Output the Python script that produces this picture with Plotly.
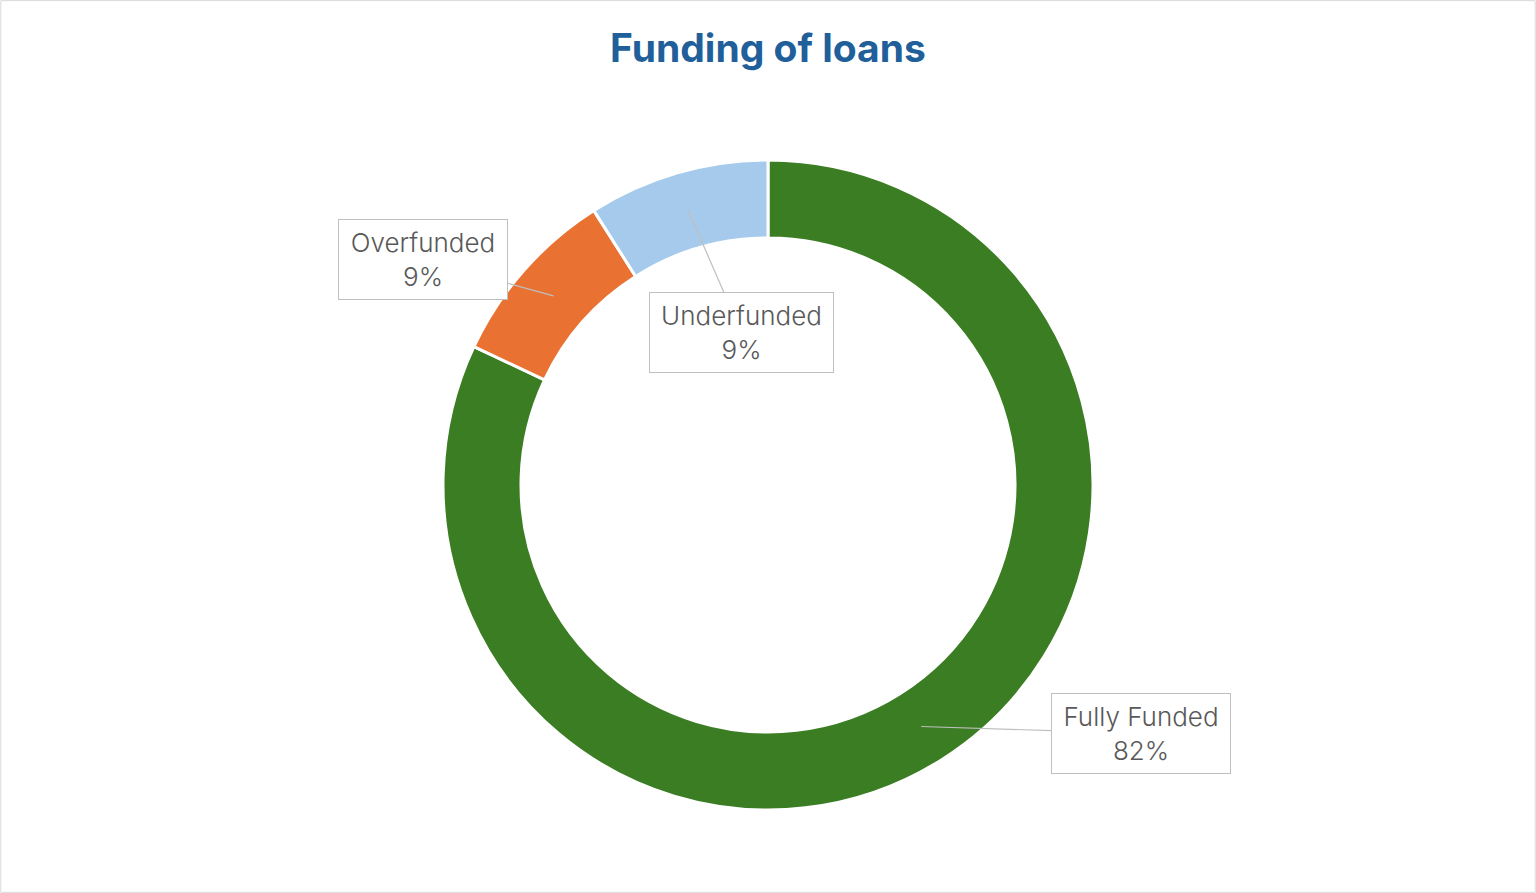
import math
import plotly.graph_objects as go

# data
labels = ['Fully Funded', 'Overfunded', 'Underfunded']
values = [82, 9, 9]
colors = ['#3b7d23', '#e97132', '#a6caec']

# label box offsets from arrow tip (px) and box text widths
box_offsets = {
    'Fully Funded': (220, 7),
    'Overfunded': (-130, -36),
    'Underfunded': (53, 122),
}
box_widths = {'Fully Funded': 164, 'Overfunded': 154, 'Underfunded': 169}

W, H = 1536, 893
m_top, m_bot = 160, 83
plot_h = H - m_top - m_bot
hole = 0.76

fig = go.Figure()

fig.add_trace(go.Pie(
    labels=labels,
    values=values,
    hole=hole,
    sort=False,
    direction='clockwise',
    rotation=0,
    marker=dict(colors=colors, line=dict(color='white', width=3)),
    textinfo='none',
    hoverinfo='label+percent',
    showlegend=False,
    domain=dict(x=[0, 1], y=[0, 1]),
))

# callout labels pointing at the middle of each ring segment
total = sum(values)
r_px = plot_h / 2
r_mid = r_px * (1 + hole) / 2
cum = 0
annotations = []
for lab, val in zip(labels, values):
    ang = (cum + val / 2) / total * 2 * math.pi
    cum += val
    tx = 0.5 + r_mid * math.sin(ang) / W
    ty = 0.5 + r_mid * math.cos(ang) / plot_h
    ax, ay = box_offsets[lab]
    pct = round(val / total * 100)
    annotations.append(dict(
        x=tx, y=ty, xref='paper', yref='paper',
        text=f'{lab}<br>{pct}%',
        showarrow=True, arrowhead=0, arrowwidth=1.2, arrowcolor='#bfbfbf',
        ax=ax, ay=ay, width=box_widths[lab],
        bgcolor='white', bordercolor='#bfbfbf', borderwidth=1, borderpad=7,
        font=dict(family='Inter', size=26, color='#595959', weight=300),
        align='center',
    ))

fig.update_layout(
    width=W, height=H,
    paper_bgcolor='white', plot_bgcolor='white',
    margin=dict(l=0, r=0, t=m_top, b=m_bot),
    title=dict(text='<b>Funding of loans</b>', x=0.5, xanchor='center',
               y=1 - 48 / H, yanchor='middle',
               font=dict(family='Inter', size=39, color='#215f9a')),
    annotations=annotations,
    shapes=[dict(type='rect', xref='paper', yref='paper',
                 x0=0.0005, x1=0.9995, y0=-m_bot / plot_h + 0.001, y1=1 + m_top / plot_h - 0.001,
                 line=dict(color='#d9d9d9', width=1))],
)

# drop the default page margin so the figure sits at the window corner
fig.write_html('out.html', config={'displayModeBar': False},
               post_script="document.body.style.margin='0';")
